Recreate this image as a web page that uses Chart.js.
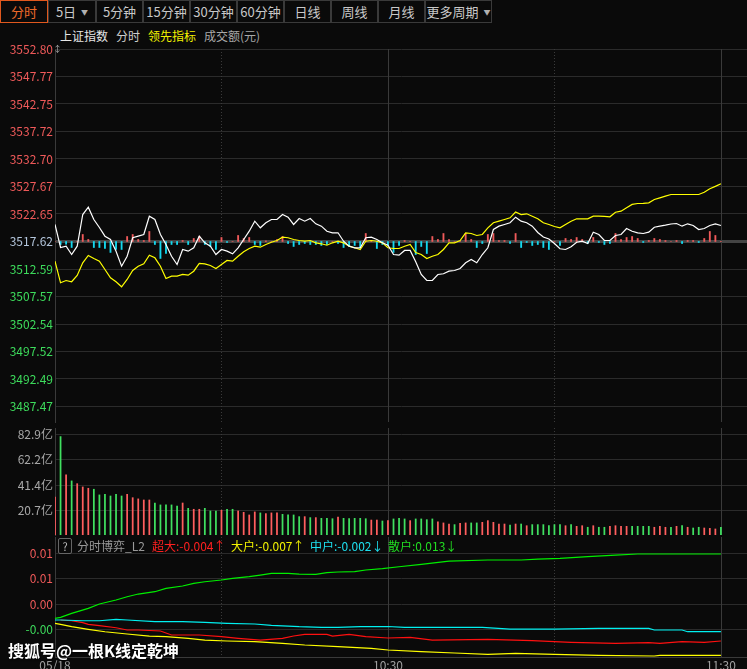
<!DOCTYPE html>
<html>
<head>
<meta charset="utf-8">
<script src="https://cdn.jsdelivr.net/npm/chart.js@4"></script>
<style>
  body { margin: 0; background: #0a0a0a; width: 747px; height: 669px; overflow: hidden; position: relative;
         font-family: "Noto Sans CJK SC", "Noto Sans", sans-serif; }
  .btn { position: absolute; top: 0; height: 21px; border: 1px solid #3a3a3a; color: #c8c8c8; font-size: 13px;
         line-height: 21px; text-align: center; box-sizing: content-box; white-space: nowrap; }
  .btn.on { border-color: #e0581e; color: #ef6a2a; }
  .tri { font-size: 7px; vertical-align: 2px; margin-left: 5px; color: #b0b0b0; }
  .lbl { position: absolute; font-size: 12px; white-space: nowrap; line-height: 14px; }
  .box { position: absolute; }
</style>
</head>
<body>
<div class="btn on" style="left:0;width:46px">分时</div>
<div class="btn" style="left:48px;width:46px">5日<span class="tri">▼</span></div>
<div class="btn" style="left:96px;width:45px">5分钟</div>
<div class="btn" style="left:143px;width:45px">15分钟</div>
<div class="btn" style="left:190px;width:45px">30分钟</div>
<div class="btn" style="left:237px;width:45px">60分钟</div>
<div class="btn" style="left:284px;width:45px">日线</div>
<div class="btn" style="left:331px;width:45px">周线</div>
<div class="btn" style="left:378px;width:45px">月线</div>
<div class="btn" style="left:425px;width:65px">更多周期<span class="tri">▼</span></div>

<div class="lbl" style="left:60px;top:29px;color:#e6e6e6">上证指数</div>
<div class="lbl" style="left:116px;top:29px;color:#cfcfcf">分时</div>
<div class="lbl" style="left:148px;top:29px;color:#f2f200">领先指标</div>
<div class="lbl" style="left:204px;top:29px;color:#a8a8a8">成交额(元)</div>

<div class="box" style="left:0;top:39px;width:747px;height:387px"><canvas id="mainChart"></canvas></div>
<div class="box" style="left:0;top:426px;width:747px;height:111px"><canvas id="volChart"></canvas></div>
<div class="box" style="left:0;top:537px;width:747px;height:132px"><canvas id="indChart"></canvas></div>

<div class="lbl" style="left:53px;top:42px;font-size:9px;color:#aaa">↕</div>

<div class="lbl" style="left:58px;top:538px;width:12px;height:14px;border:1px solid #666;border-radius:2px;color:#bbb;text-align:center;font-size:11px">?</div>
<div class="lbl" style="left:77px;top:539px;color:#9a9a9a">分时博弈_L2</div>
<div class="lbl" style="left:152px;top:539px;color:#ff2020">超大:-0.004↑</div>
<div class="lbl" style="left:231px;top:539px;color:#f2f200">大户:-0.007↑</div>
<div class="lbl" style="left:310px;top:539px;color:#1ee0f0">中户:-0.002↓</div>
<div class="lbl" style="left:388px;top:539px;color:#22dd22">散户:0.013↓</div>

<div class="lbl" style="left:8px;top:640px;font-size:16px;line-height:20px;font-weight:bold;color:#fff;text-shadow:1px 1px 2px #000">搜狐号@一根K线定乾坤</div>

<script>
// 上证指数 分时 (9:30 起每分钟)
const prevClose = 3517.62;
const indexPrice = [
  3520.73, 3516.52, 3516.76, 3515.24, 3516.76, 3522.55, 3523.89, 3521.64, 3520.18, 3518.59,
  3517.99, 3515.85, 3513.11, 3514.93, 3518.30, 3518.59, 3518.90, 3522.24, 3521.64, 3518.90,
  3517.07, 3514.93, 3513.42, 3516.16, 3515.85, 3516.47, 3518.59, 3517.38, 3516.76, 3515.24,
  3516.16, 3515.85, 3515.37, 3516.47, 3517.99, 3519.50, 3521.33, 3520.12, 3521.04, 3521.64,
  3521.64, 3522.55, 3522.06, 3520.73, 3521.82, 3521.33, 3521.82, 3520.85, 3520.42, 3519.50,
  3519.21, 3519.21, 3517.67, 3516.76, 3516.47, 3516.47, 3518.30, 3518.41, 3517.99, 3517.38,
  3516.94, 3515.24, 3515.12, 3515.98, 3515.98, 3513.91, 3511.59, 3510.49, 3510.49, 3511.59,
  3511.72, 3512.19, 3512.32, 3512.69, 3513.73, 3514.33, 3513.73, 3515.24, 3516.47, 3519.81,
  3520.42, 3520.73, 3521.04, 3522.06, 3521.33, 3521.04, 3520.42, 3519.26, 3518.44, 3518.08,
  3517.25, 3516.29, 3516.16, 3516.65, 3517.49, 3517.67, 3517.25, 3519.32, 3518.90, 3517.80,
  3517.80, 3518.72, 3518.90, 3520.00, 3519.50, 3519.21, 3519.08, 3519.32, 3520.23, 3520.42,
  3520.60, 3520.82, 3520.91, 3520.42, 3520.85, 3520.54, 3519.81, 3520.00, 3520.54, 3520.85,
  3520.54
];
// 领先指标
const leadPrice = [
  3514.02, 3510.07, 3510.49, 3510.26, 3511.41, 3513.73, 3515.06, 3514.51, 3514.02, 3512.50,
  3510.99, 3510.26, 3509.34, 3510.68, 3512.32, 3513.11, 3513.54, 3515.12, 3514.64, 3513.11,
  3510.86, 3511.28, 3511.28, 3511.59, 3511.46, 3512.19, 3513.60, 3513.54, 3513.23, 3512.69,
  3513.42, 3514.15, 3514.02, 3514.93, 3515.74, 3516.34, 3516.76, 3516.58, 3517.07, 3517.49,
  3517.80, 3518.41, 3518.30, 3517.99, 3517.80, 3517.67, 3517.80, 3517.38, 3517.20, 3516.94,
  3517.38, 3517.67, 3517.38, 3516.76, 3516.47, 3516.16, 3517.67, 3517.80, 3517.67, 3517.38,
  3516.47, 3516.34, 3516.34, 3516.76, 3517.07, 3515.61, 3515.24, 3514.51, 3514.93, 3515.24,
  3516.16, 3517.38, 3517.38, 3517.80, 3519.21, 3519.08, 3518.72, 3518.90, 3520.12, 3521.04,
  3521.33, 3521.64, 3521.95, 3523.01, 3522.55, 3522.68, 3522.24, 3521.79, 3521.04, 3520.73,
  3520.36, 3520.12, 3520.73, 3521.33, 3521.77, 3521.77, 3521.77, 3522.24, 3522.24, 3522.20,
  3522.13, 3522.97, 3523.16, 3523.78, 3524.40, 3524.56, 3524.60, 3524.69, 3525.30, 3525.60,
  3525.90, 3526.21, 3526.21, 3526.21, 3526.21, 3526.21, 3526.21, 3526.63, 3527.25, 3527.70,
  3528.16
];
// 红绿柱 (相对昨收)
const leadBars = [
  0, -0.55, -0.5, -1.1, 0, 1.28, 0.37, -1.1, -1.1, -1.28,
  -2.0, -1.46, -1.46, 0.91, 1.28, 0.37, 0.18, 1.83, -0.55, -3.1,
  -2.2, -0.55, -0.55, 0.18, -0.55, 0.55, 0.91, -0.55, -0.91, -1.46,
  0.73, -0.18, 0, 1.1, 0.55, 0.73, -0.55, -0.73, 0.1, 0,
  0.37, 0.91, -0.37, -0.91, -0.55, -0.37, -0.55, -0.55, -0.73, -0.55,
  0, -0.37, -1.1, -0.91, -0.73, -1.1, 1.46, 0.18, -1.28, -0.55,
  -0.73, -2.0, -0.73, 0.18, 0, -2.38, -0.91, -2.2, 0.91, 0.37,
  1.46, 0.37, 0, 0, 1.46, 0.37, -1.1, -0.37, 1.28, 1.46,
  0.18, 0.18, -0.37, 1.46, -1.1, -0.18, -0.73, -0.55, -1.1, -1.46,
  0, -0.73, 0.55, 0.37, 0.73, 0.37, -0.37, 0.73, -0.18, -0.55,
  -0.37, 1.46, 0.37, 0.73, 0.91, 0.55, -0.18, 0.18, 0.55, 0.37,
  0.18, 0, 0.18, -0.37, 0.18, 0.18, -0.18, 0.55, 1.83, 1.1,
  0
];
// 成交额 (亿) 与涨跌方向
const volume = [
  31.5, 81.5, 49.8, 44.8, 42.5, 39.8, 38.7, 37.9, 33.2, 33.7,
  32.3, 33.7, 32.3, 33.7, 30.9, 29.9, 29.0, 29.0, 26.5, 24.9,
  24.9, 24.9, 24.0, 26.5, 22.1, 21.3, 21.3, 22.1, 19.9, 19.9,
  20.5, 21.3, 21.3, 19.9, 18.8, 16.6, 19.1, 18.3, 17.7, 18.3,
  18.3, 17.1, 16.6, 16.6, 15.2, 15.2, 14.4, 14.4, 13.8, 13.8,
  13.5, 14.9, 13.8, 13.5, 13.8, 13.8, 13.5, 12.4, 12.4, 11.6,
  11.9, 13.3, 13.8, 13.3, 11.9, 13.3, 13.3, 12.7, 13.3, 11.0,
  10.0, 9.1, 8.6, 9.7, 10.0, 10.0, 10.0, 10.5, 11.9, 10.5,
  9.1, 9.1, 8.3, 9.1, 9.1, 7.7, 8.6, 8.6, 8.6, 7.7,
  8.6, 8.6, 7.7, 8.6, 7.2, 7.7, 6.4, 7.7, 6.4, 6.4,
  7.2, 7.7, 7.2, 7.2, 7.2, 7.2, 7.2, 7.2, 6.4, 7.2,
  6.4, 6.4, 7.2, 7.7, 6.4, 5.8, 6.4, 5.8, 5.5, 5.0,
  6.4
];
const volumeDir = [
  1, -1, 1, -1, 1, 1, 1, -1, -1, -1,
  -1, -1, -1, 1, 1, 1, 1, 1, -1, -1,
  -1, -1, -1, 1, -1, 1, 1, -1, -1, -1,
  1, -1, -1, 1, 1, 1, 1, -1, 1, 1,
  1, -1, -1, -1, -1, 1, -1, 1, -1, -1,
  -1, 1, -1, -1, -1, -1, -1, 1, 1, -1,
  1, -1, -1, -1, 1, -1, -1, -1, -1, 1,
  1, 1, -1, 1, 1, -1, -1, 1, 1, 1,
  1, 1, -1, 1, -1, 1, -1, -1, -1, -1,
  -1, -1, 1, -1, 1, 1, -1, 1, -1, -1,
  1, 1, 1, 1, -1, -1, -1, -1, 1, 1,
  1, -1, 1, -1, 1, -1, -1, 1, 1, 1,
  -1
];
// 分时博弈_L2 (分钟, 数值)
const superMin = [1, 3, 5, 6, 8, 11, 13, 15, 19, 21, 26, 30, 33, 37, 41, 43, 45, 49, 50, 53, 56, 60, 64, 68, 78, 86, 93, 101, 107, 109, 113, 117, 120];
const superVal = [-0.00003, -0.00017, -0.00056, -0.00088, -0.00115, -0.00155, -0.00200, -0.00200, -0.00220, -0.00299, -0.00299, -0.00332, -0.00364, -0.00398, -0.00364, -0.00319, -0.00285, -0.00285, -0.00319, -0.00285, -0.00332, -0.00358, -0.00344, -0.00398, -0.00384, -0.00411, -0.00443, -0.00463, -0.00451, -0.00463, -0.00431, -0.00443, -0.00417];
const bigMin = [0, 1, 3, 6, 9, 13, 17, 20, 24, 27, 31, 36, 41, 45, 51, 57, 60, 66, 72, 78, 83, 90, 98, 108, 109, 120];
const bigVal = [-0.00070, -0.00088, -0.00135, -0.00186, -0.00234, -0.00279, -0.00319, -0.00332, -0.00364, -0.00398, -0.00417, -0.00431, -0.00463, -0.00496, -0.00530, -0.00561, -0.00595, -0.00625, -0.00654, -0.00680, -0.00660, -0.00680, -0.00700, -0.00713, -0.00700, -0.00700];
const midMin = [0, 1, 5, 8, 11, 13, 18, 23, 27, 31, 36, 39, 44, 48, 51, 55, 60, 63, 68, 77, 82, 90, 98, 107, 108, 113, 114, 120];
const midVal = [-0.00003, -0.00003, -0.00017, -0.00017, 0.00011, -0.00003, -0.00036, -0.00036, -0.00048, -0.00068, -0.00082, -0.00107, -0.00135, -0.00147, -0.00147, -0.00135, -0.00131, -0.00147, -0.00147, -0.00147, -0.00181, -0.00181, -0.00167, -0.00167, -0.00200, -0.00200, -0.00234, -0.00234];
const retailMin = [0, 1, 3, 6, 8, 11, 13, 15, 18, 20, 23, 25, 27, 30, 32, 35, 37, 39, 42, 44, 47, 49, 51, 54, 56, 59, 62, 66, 71, 78, 84, 87, 91, 96, 101, 105, 120];
const retailVal = [0.00030, 0.00050, 0.00129, 0.00228, 0.00313, 0.00392, 0.00457, 0.00510, 0.00556, 0.00623, 0.00668, 0.00722, 0.00753, 0.00787, 0.00820, 0.00852, 0.00885, 0.00919, 0.00919, 0.00905, 0.00899, 0.00931, 0.00945, 0.00951, 0.00984, 0.01010, 0.01049, 0.01097, 0.01158, 0.01182, 0.01182, 0.01201, 0.01215, 0.01247, 0.01280, 0.01300, 0.01300];

// 坐标轴刻度
const priceTicks = [3552.80, 3547.77, 3542.75, 3537.72, 3532.70, 3527.67, 3522.65, 3517.62, 3512.59, 3507.57, 3502.54, 3497.52, 3492.49, 3487.47];
const volumeTicks = [20.7, 41.4, 62.2, 82.9];
const gameTicks = [0.0131, 0.0081, 0.0031, -0.0019];
const timeTicks = [0, 60, 120];
const timeLabels = ['05/18', '10:30', '11:30'];
const sessionMinutes = [30, 60, 90, 120];
const dottedMinutes = [30, 90];

const RED = '#f05a5a', GREEN = '#3ddc5c', CYAN = '#14d8ee';
const GRID = '#2b2b2b';
const FONT = { family: '"Noto Sans CJK SC", "Noto Sans", sans-serif', size: 12 };
const X_MAX = 124.7;

const sessionLines = {
    id: 'sessionLines',
    beforeDatasetsDraw(chart) {
        const { ctx, chartArea, scales } = chart;
        ctx.save();
        ctx.strokeStyle = '#3a3a3a';
        ctx.lineWidth = 1;
        sessionMinutes.forEach(m => {
            const x = Math.round(scales.x.getPixelForValue(m)) + 0.5;
            ctx.setLineDash(dottedMinutes.includes(m) ? [1, 2] : []);
            ctx.beginPath();
            ctx.moveTo(x, chartArea.top);
            ctx.lineTo(x, chartArea.bottom);
            ctx.stroke();
        });
        ctx.restore();
    }
};

const fixAxis = (scale) => {
    scale.width = 55;
    scale.paddingTop = 0;
    scale.paddingBottom = 0;
};

const xHidden = { type: 'linear', min: 0, max: X_MAX, offset: false, display: false };

new Chart(document.getElementById('mainChart'), {
    type: 'bar',
    data: {
        datasets: [
            {
                type: 'line',
                data: indexPrice.map((v, i) => ({ x: i, y: v })),
                borderColor: '#ffffff',
                borderWidth: 1.2,
                pointRadius: 0,
                order: 1
            },
            {
                type: 'line',
                data: leadPrice.map((v, i) => ({ x: i, y: v })),
                borderColor: '#ffff00',
                borderWidth: 1.2,
                pointRadius: 0,
                order: 2
            },
            {
                type: 'bar',
                data: leadBars.map((v, i) => ({ x: i, y: [prevClose, prevClose + v] })),
                backgroundColor: ctx => (leadBars[ctx.dataIndex] >= 0 ? RED : CYAN),
                barThickness: 1.2,
                order: 3
            }
        ]
    },
    options: {
        responsive: true,
        maintainAspectRatio: false,
        animation: false,
        layout: { padding: { top: 10, bottom: 4, left: 0, right: 0 } },
        plugins: { legend: { display: false }, tooltip: { enabled: false } },
        scales: {
            x: xHidden,
            y: {
                min: 3484.63,
                max: 3552.80,
                afterBuildTicks: s => { s.ticks = priceTicks.map(v => ({ value: v })); },
                afterFit: fixAxis,
                border: { display: true, color: '#3a3a3a' },
                grid: {
                    drawTicks: false,
                    color: c => (c.tick && Math.abs(c.tick.value - prevClose) < 0.01 ? '#444' : GRID),
                    lineWidth: c => (c.tick && Math.abs(c.tick.value - prevClose) < 0.01 ? 3 : 1)
                },
                ticks: {
                    padding: 2,
                    font: FONT,
                    callback: v => v.toFixed(2),
                    color: c => {
                        const v = c.tick.value;
                        if (Math.abs(v - prevClose) < 0.01) return '#b4c6dc';
                        return v > prevClose ? RED : GREEN;
                    }
                }
            }
        }
    },
    plugins: [sessionLines]
});

new Chart(document.getElementById('volChart'), {
    type: 'bar',
    data: {
        datasets: [{
            data: volume.map((v, i) => ({ x: i, y: v })),
            backgroundColor: ctx => (volumeDir[ctx.dataIndex] > 0 ? '#ff5e5e' : '#40e060'),
            barThickness: 1.1
        }]
    },
    options: {
        responsive: true,
        maintainAspectRatio: false,
        animation: false,
        layout: { padding: { top: 2, bottom: 2, left: 0, right: 0 } },
        plugins: { legend: { display: false }, tooltip: { enabled: false } },
        scales: {
            x: xHidden,
            y: {
                min: 0,
                max: 88.6,
                afterBuildTicks: s => { s.ticks = volumeTicks.map(v => ({ value: v })); },
                afterFit: fixAxis,
                border: { display: true, color: '#3a3a3a' },
                grid: { drawTicks: false, color: GRID },
                ticks: { padding: 2, font: FONT, color: '#a8a8a8', callback: v => v + '亿' }
            }
        }
    },
    plugins: [sessionLines]
});

const gameLine = (mins, vals, color) => ({
    data: mins.map((m, i) => ({ x: m, y: vals[i] })),
    borderColor: color,
    borderWidth: 1.2,
    pointRadius: 0
});

new Chart(document.getElementById('indChart'), {
    type: 'line',
    data: {
        datasets: [
            gameLine(retailMin, retailVal, '#00ee00'),
            gameLine(midMin, midVal, '#00f0f0'),
            gameLine(superMin, superVal, '#ff1010'),
            gameLine(bigMin, bigVal, '#ffff00')
        ]
    },
    options: {
        responsive: true,
        maintainAspectRatio: false,
        animation: false,
        layout: { padding: 0 },
        plugins: { legend: { display: false }, tooltip: { enabled: false } },
        scales: {
            x: {
                type: 'linear',
                min: 0,
                max: X_MAX,
                afterBuildTicks: s => { s.ticks = timeTicks.map(v => ({ value: v })); },
                afterFit: s => { s.height = 12; s.paddingLeft = 0; s.paddingRight = 0; },
                border: { display: true, color: '#3a3a3a' },
                grid: { display: false, drawTicks: false },
                ticks: {
                    padding: 1,
                    font: FONT,
                    color: '#a0a0a0',
                    maxRotation: 0,
                    autoSkip: false,
                    callback: v => timeLabels[timeTicks.indexOf(v)]
                }
            },
            y: {
                min: -0.00733,
                max: 0.01636,
                afterBuildTicks: s => { s.ticks = gameTicks.map(v => ({ value: v })); },
                afterFit: fixAxis,
                border: { display: true, color: '#3a3a3a' },
                grid: { drawTicks: false, color: GRID },
                ticks: {
                    padding: 2,
                    font: FONT,
                    callback: v => v.toFixed(2),
                    color: c => (c.tick.value > 0 ? RED : GREEN)
                }
            }
        }
    },
    plugins: [sessionLines]
});
</script>
</body>
</html>
